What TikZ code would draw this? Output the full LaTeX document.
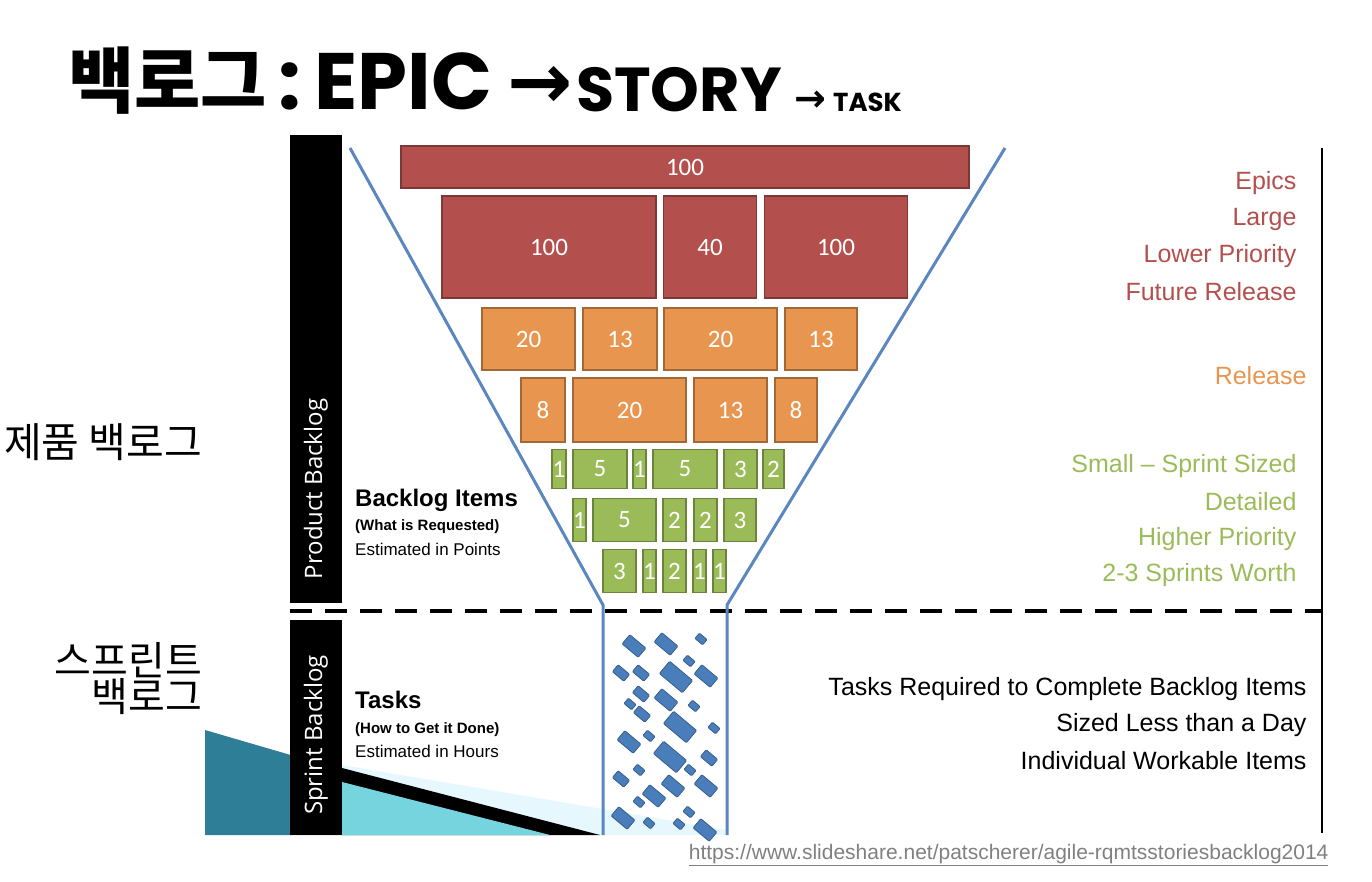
\documentclass[tikz,border=0pt]{standalone}
\usepackage{fontspec}
\setmainfont{Liberation Sans}
\newfontfamily\kr{Noto Sans CJK KR}
\newfontfamily\pop{Poppins}
\newfontfamily\carl{Carlito}
\newfontfamily\opn{Open Sans}
\newfontfamily\djv{DejaVu Sans}
\begin{document}
\begin{tikzpicture}[x=1pt,y=-1pt,
 box/.style={draw=#1!70!black,line width=1.6pt,fill=#1,text=white,inner sep=0pt,font=\carl\fontsize{25}{25}\selectfont},
 rb/.style={box=epic}, ob/.style={box=rel}, gb/.style={box=spr},
 tk/.style={draw=tkb!75!black,fill=tkb,line width=0.8pt,rotate=-40,inner sep=0pt,rounded corners=1pt},
 xs/.style={tk,minimum width=10pt,minimum height=7pt},
 s/.style={tk,minimum width=15pt,minimum height=9pt},
 m/.style={tk,minimum width=21pt,minimum height=12pt},
 l/.style={tk,minimum width=30pt,minimum height=16pt},
 rt/.style={anchor=east,font=\fontsize{25}{25}\selectfont},
 bar/.style={fill=black}]
\definecolor{epic}{HTML}{B3504D}
\definecolor{rel}{HTML}{E8964F}
\definecolor{spr}{HTML}{9BBB59}
\definecolor{tkb}{HTML}{4A7EBB}
\definecolor{fun}{HTML}{5B86C0}
\definecolor{teal}{HTML}{2E7E98}
\useasboundingbox (0,0) rectangle (1372,882);
% bottom-left decoration
\fill[teal] (205,730) -- (342,770) -- (342,835) -- (205,835) -- cycle;
\fill[cyan!10!white] (342,765) -- (727,830) -- (727,835) -- (342,835) -- cycle;
\fill[black] (342,768) -- (600,835) -- (342,835) -- cycle;
\fill[teal!55!cyan!60!white] (342,782) -- (550,835) -- (342,835) -- cycle;
% title
\node[anchor=base west,inner sep=0pt,font=\kr\bfseries\fontsize{72}{72}\selectfont] (t1) at (68,108) {백로그};
\node[anchor=base west,inner sep=0pt,font=\pop\bfseries\fontsize{80}{80}\selectfont] (t2) at (278,110) {:\,EPIC};
\node[inner sep=0pt,font=\djv\bfseries\fontsize{78}{78}\selectfont] (t3) at (540,87) {→};
\node[anchor=base west,inner sep=0pt,font=\pop\bfseries\fontsize{62}{62}\selectfont] (t4) at (576,112) {STORY};
\node[inner sep=0pt,font=\djv\bfseries\fontsize{38}{38}\selectfont] (t5) at (810,101) {→};
\node[anchor=base west,inner sep=0pt,font=\pop\bfseries\fontsize{26}{26}\selectfont] (t6) at (833,112) {TASK};
% bars
\fill[bar] (290,135) rectangle (342,603);
\fill[bar] (290,620) rectangle (342,835);
\node[rotate=90,text=white,font=\opn\fontsize{24}{24}\selectfont] (pb) at (316,489) {Product Backlog};
\node[rotate=90,text=white,font=\opn\fontsize{24}{24}\selectfont] (sb) at (316,735) {Sprint Backlog};
\draw[line width=4pt,dash pattern=on 22pt off 13pt] (290,611) -- (1322,611);
\draw[line width=2.5pt] (1322,148) -- (1322,833);
% boxes
\node[rb,minimum width=568pt,minimum height=42pt] (a) at (685,167) {100};
\node[rb,minimum width=214pt,minimum height=102pt] (b1) at (549,247) {100};
\node[rb,minimum width=93pt,minimum height=102pt] (b2) at (710,247) {40};
\node[rb,minimum width=143pt,minimum height=102pt] (b3) at (836,247) {100};
\foreach \xa/\xb/\t [count=\i] in {482/575/20,583/657/13,664/777/20,785/857/13}
 \node[ob,minimum width=\xb-\xa,minimum height=62pt] (c\i) at ({(\xa+\xb)/2},339) {\t};
\foreach \xa/\xb/\t [count=\i] in {521/565/8,573/686/20,694/767/13,775/817/8}
 \node[ob,minimum width=\xb-\xa,minimum height=64pt] (d\i) at ({(\xa+\xb)/2},410) {\t};
\foreach \xa/\xb/\t [count=\i] in {552/566/1,573/627/5,633/646/1,653/717/5,724/757/3,763/784/2}
 \node[gb,minimum width=\xb-\xa,minimum height=39pt] (e\i) at ({(\xa+\xb)/2},469) {\t};
\foreach \xa/\xb/\t [count=\i] in {573/586/1,593/656/5,663/686/2,694/717/2,724/756/3}
 \node[gb,minimum width=\xb-\xa,minimum height=43pt] (f\i) at ({(\xa+\xb)/2},520) {\t};
\foreach \xa/\xb/\t [count=\i] in {603/636/3,643/656/1,663/686/2,693/706/1,713/726/1}
 \node[gb,minimum width=\xb-\xa,minimum height=43pt] (g\i) at ({(\xa+\xb)/2},571) {\t};
% funnel
\coordinate (fl1) at (350,148); \coordinate (fl2) at (603,605); \coordinate (fl3) at (603,835);
\coordinate (fr1) at (1005,148); \coordinate (fr2) at (727,605); \coordinate (fr3) at (727,835);
\draw[fun,line width=3pt] (fl1) -- (fl2) -- (fl3);
\draw[fun,line width=3pt] (fr1) -- (fr2) -- (fr3);
% tasks
\foreach \x/\y/\st in {634/646/m,666/644/m,701/639/xs,621/673/s,641/673/s,676/677/l,689/661/xs,706/676/m,641/694/s,630/704/xs,642/714/s,666/700/m,694/706/xs,680/727/l,714/728/xs,629/742/m,649/736/xs,670/757/l,709/758/s,621/779/s,639/770/xs,690/770/xs,673/786/m,706/786/m,654/796/m,639/802/xs,623/818/m,649/823/xs,679/824/xs,689/812/xs,705/830/m}
 \node[\st] at (\x,\y) {};
% left texts
\node[anchor=base west,inner sep=0pt,font=\bfseries\fontsize{24}{24}\selectfont] (bi) at (355,506) {Backlog Items};
\node[anchor=base west,inner sep=0pt,font=\bfseries\fontsize{15}{15}\selectfont] (bi2) at (355,530) {(What is Requested)};
\node[anchor=base west,inner sep=0pt,font=\fontsize{17}{17}\selectfont] (bi3) at (355,555) {Estimated in Points};
\node[anchor=base west,inner sep=0pt,font=\bfseries\fontsize{24}{24}\selectfont] (ta) at (355,708) {Tasks};
\node[anchor=base west,inner sep=0pt,font=\bfseries\fontsize{15}{15}\selectfont] (ta2) at (355,733) {(How to Get it Done)};
\node[anchor=base west,inner sep=0pt,font=\fontsize{17}{17}\selectfont] (ta3) at (355,757) {Estimated in Hours};
\node[anchor=east,inner sep=0pt,font=\kr\fontsize{41}{41}\selectfont] (k1) at (202,442) {제품 백로그};
\node[anchor=east,inner sep=0pt,font=\kr\fontsize{40}{40}\selectfont] (k2) at (202,660) {스프린트};
\node[anchor=east,inner sep=0pt,font=\kr\fontsize{40}{40}\selectfont] (k3) at (202,697) {백로그};
% right texts
\foreach \t/\y [count=\i] in {Epics/183,Large/219,Lower Priority/256,Future Release/292}
 \node[rt,text=epic] (r\i) at (1300,\y) {\t};
\node[rt,text=rel] (rr) at (1310,376) {Release};
\foreach \t/\y [count=\i] in {Small -- Sprint Sized/466,Detailed/502,Higher Priority/539,2-3 Sprints Worth/575}
 \node[rt,text=spr] (s\i) at (1300,\y) {\t};
\foreach \t/\y [count=\i] in {Tasks Required to Complete Backlog Items/689,Sized Less than a Day/725,Individual Workable Items/761}
 \node[rt,text=black] (q\i) at (1310,\y) {\t};
\node[anchor=east,text=gray,font=\fontsize{21}{21}\selectfont] (url) at (1332,855) {\underline{https://www.slideshare.net/patscherer/agile-rqmtsstoriesbacklog2014}};
\end{tikzpicture}
\end{document}
